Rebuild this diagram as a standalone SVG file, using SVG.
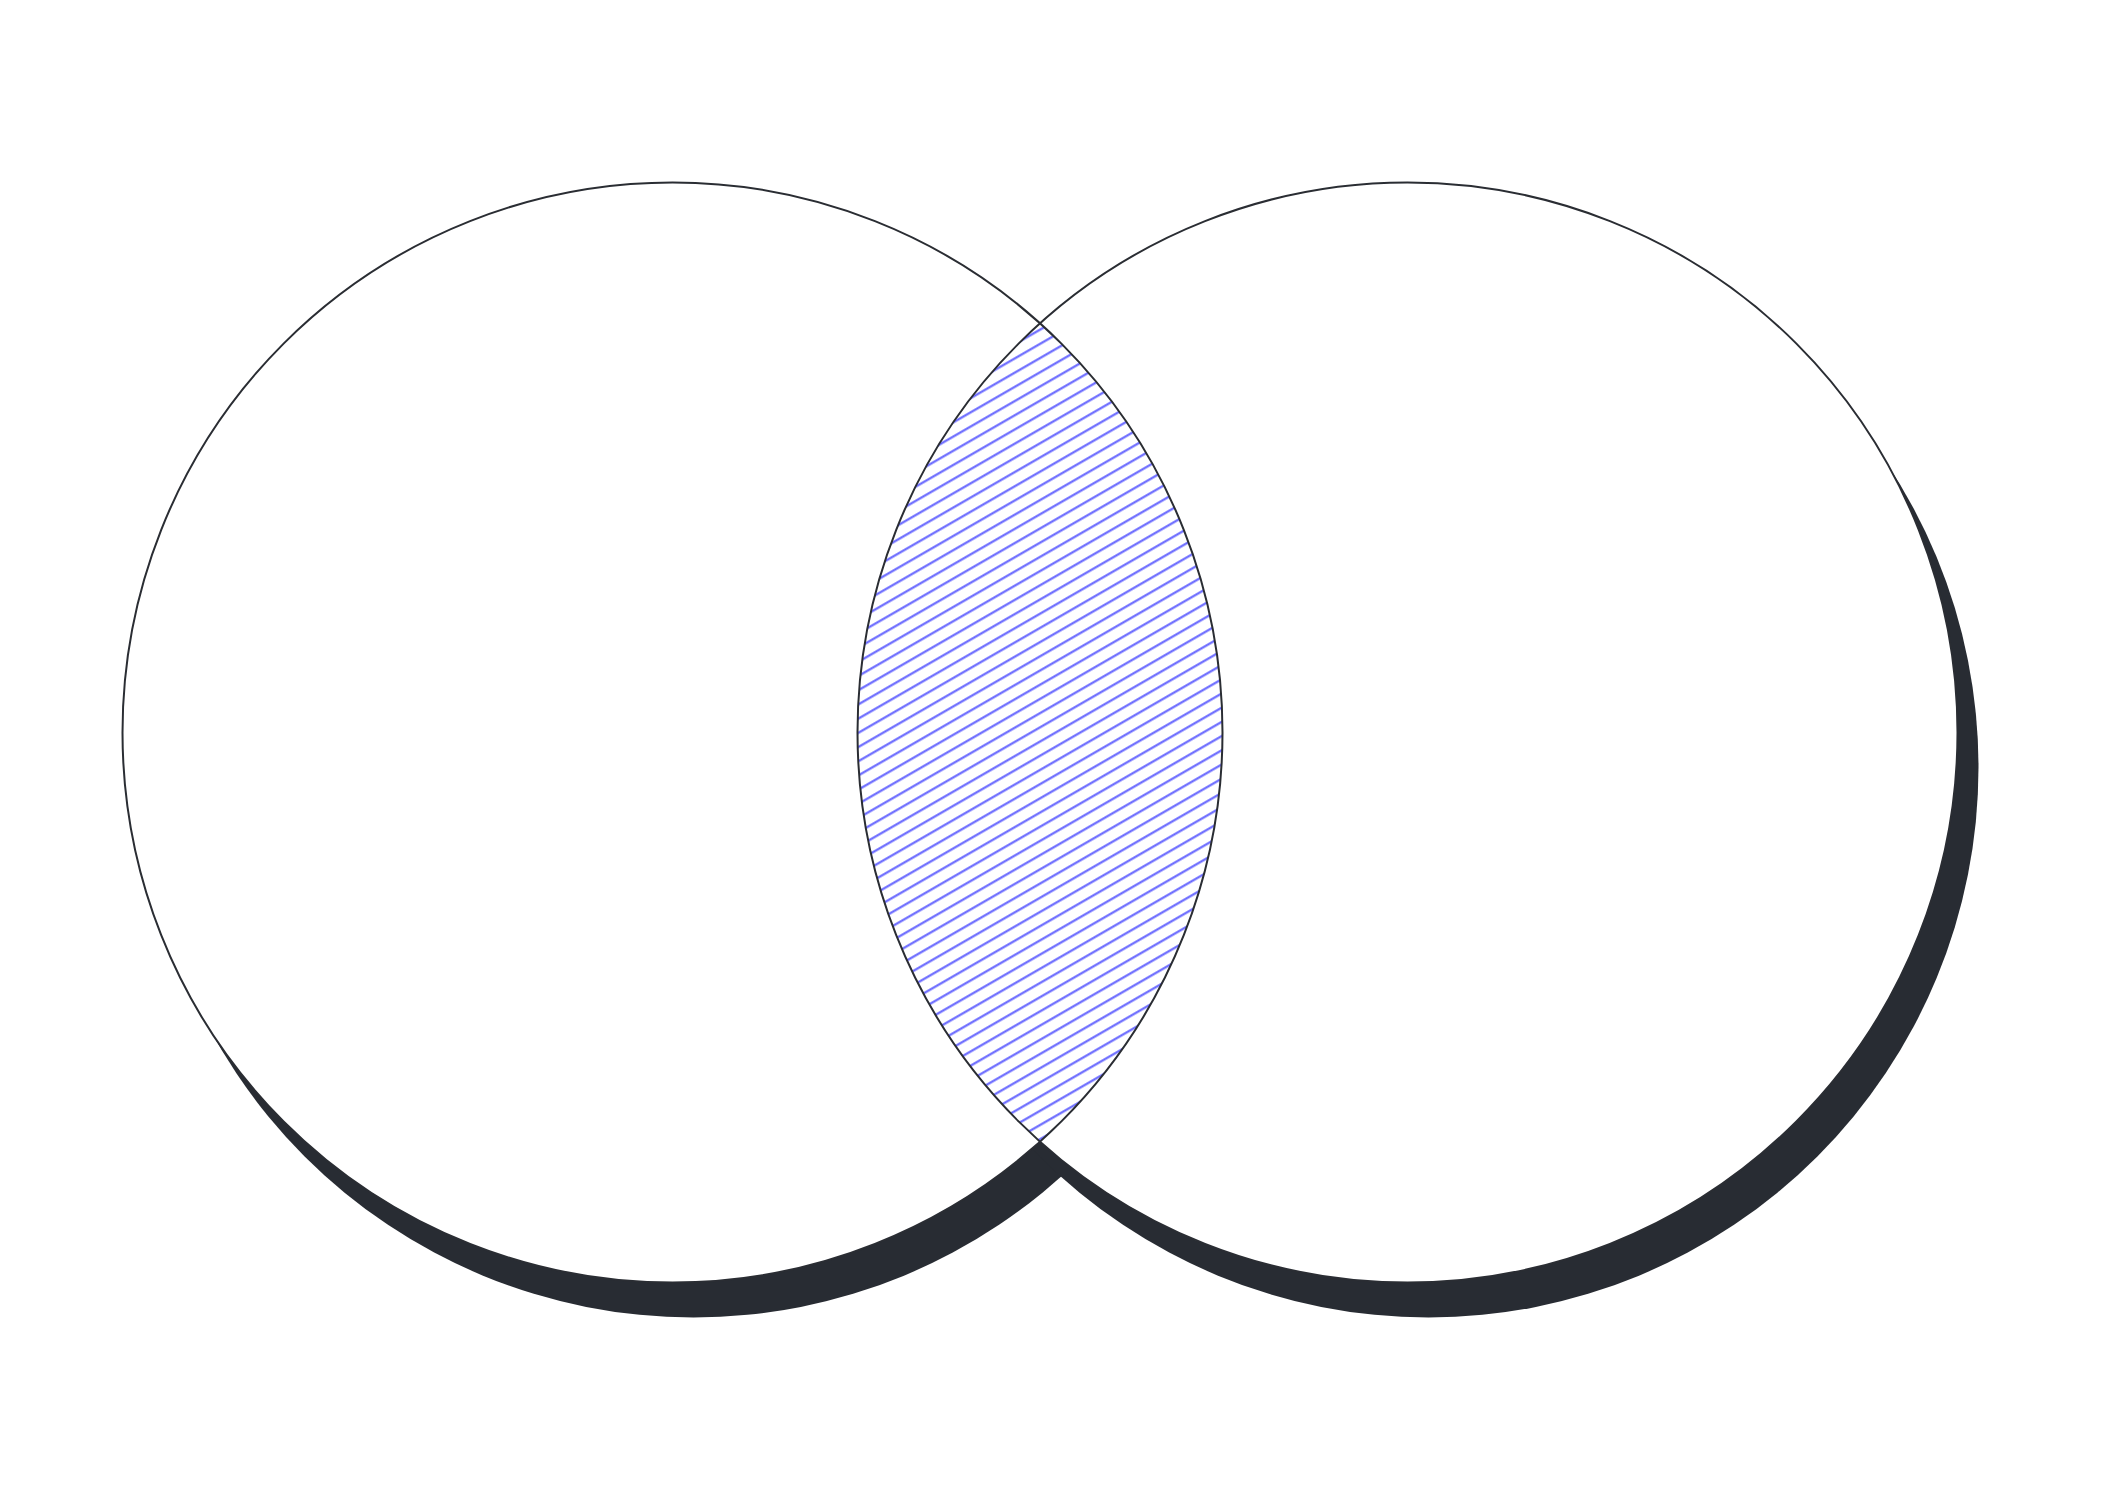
<svg xmlns="http://www.w3.org/2000/svg" width="2101" height="1501" viewBox="0 0 2101 1501">
<style>
.shadow{fill:#282c33;stroke:none}
.body{fill:#ffffff;stroke:none}
.outline{fill:none;stroke:#2a2d33;stroke-width:2}
</style>
<defs>
<pattern id="hatch" patternUnits="userSpaceOnUse" width="40" height="12.3" patternTransform="rotate(-30)">
<rect width="40" height="12.3" fill="#ffffff"/>
<line x1="0" y1="6" x2="40" y2="6" stroke="#6464ff" stroke-width="2.2"/>
</pattern>
<clipPath id="clipRight">
<circle cx="1407.5" cy="732.5" r="550"/>
</clipPath>
</defs>
<rect width="2101" height="1501" fill="#ffffff"/>
<g id="shadows">
<circle class="shadow" cx="693.5" cy="767.5" r="550"/>
<circle class="shadow" cx="1428.5" cy="767.5" r="550"/>
</g>
<g id="set-a">
<circle class="body" cx="672.5" cy="732.5" r="550"/>
</g>
<g id="set-b">
<circle class="body" cx="1407.5" cy="732.5" r="550"/>
</g>
<g id="intersection">
<circle cx="672.5" cy="732.5" r="550" fill="url(#hatch)" clip-path="url(#clipRight)"/>
</g>
<g id="outlines">
<circle class="outline" cx="672.5" cy="732.5" r="550"/>
<circle class="outline" cx="1407.5" cy="732.5" r="550"/>
</g>
</svg>
